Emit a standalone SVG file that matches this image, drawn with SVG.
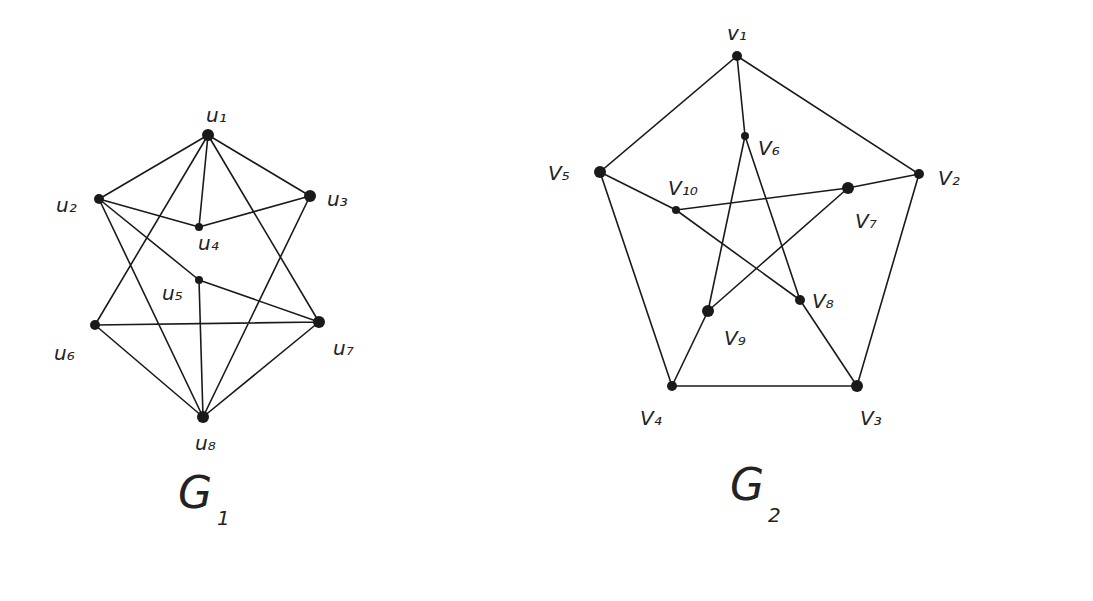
<svg xmlns="http://www.w3.org/2000/svg" width="1093" height="601" viewBox="0 0 1093 601">
<style>
.e{stroke:#1a1a1a;stroke-width:1.6;fill:none}
.n{fill:#1a1a1a}
text{font-family:"DejaVu Sans",sans-serif;font-style:italic;fill:#222;font-size:20px}
.b{font-size:44px}
</style>
<rect width="1093" height="601" fill="#fff"/>
<g id="connectors">
<path class="e" d="M208 135L99 199M208 135L310 196M208 135L199 227M208 135L95 325M208 135L319 322M99 199L199 227M199 227L310 196M99 199L199 280M99 199L203 417M199 280L319 322M199 280L203 417M95 325L319 322M95 325L203 417M310 196L203 417M319 322L203 417"/>
<path class="e" d="M737 56L919 174L857 386L672 386L600 172Z M737 56L745 136 M919 174L848 188 M857 386L800 300 M672 386L708 311 M600 172L676 210 M745 136L800 300 M745 136L708 311 M848 188L676 210 M848 188L708 311 M676 210L800 300"/>
</g>
<g id="u1"><circle class="n" cx="208" cy="135" r="6"/><text x="206" y="122">u₁</text></g>
<g id="u2"><circle class="n" cx="99" cy="199" r="5"/><text x="56" y="212">u₂</text></g>
<g id="u3"><circle class="n" cx="310" cy="196" r="6"/><text x="327" y="206">u₃</text></g>
<g id="u4"><circle class="n" cx="199" cy="227" r="4"/><text x="198" y="250">u₄</text></g>
<g id="u5"><circle class="n" cx="199" cy="280" r="4"/><text x="162" y="300">u₅</text></g>
<g id="u6"><circle class="n" cx="95" cy="325" r="5"/><text x="54" y="360">u₆</text></g>
<g id="u7"><circle class="n" cx="319" cy="322" r="6"/><text x="333" y="355">u₇</text></g>
<g id="u8"><circle class="n" cx="203" cy="417" r="6"/><text x="195" y="450">u₈</text></g>
<text class="b" x="178" y="508">G</text><text x="217" y="525" font-size="26">1</text>
<g id="v1"><circle class="n" cx="737" cy="56" r="5"/><text x="727" y="40">v₁</text></g>
<g id="v2"><circle class="n" cx="919" cy="174" r="5"/><text x="938" y="185">V₂</text></g>
<g id="v3"><circle class="n" cx="857" cy="386" r="6"/><text x="860" y="425">V₃</text></g>
<g id="v4"><circle class="n" cx="672" cy="386" r="5"/><text x="640" y="425">V₄</text></g>
<g id="v5"><circle class="n" cx="600" cy="172" r="6"/><text x="548" y="180">V₅</text></g>
<g id="v6"><circle class="n" cx="745" cy="136" r="4"/><text x="758" y="155">V₆</text></g>
<g id="v7"><circle class="n" cx="848" cy="188" r="6"/><text x="855" y="228">V₇</text></g>
<g id="v8"><circle class="n" cx="800" cy="300" r="5"/><text x="812" y="308">V₈</text></g>
<g id="v9"><circle class="n" cx="708" cy="311" r="6"/><text x="724" y="345">V₉</text></g>
<g id="v10"><circle class="n" cx="676" cy="210" r="4"/><text x="668" y="195">V₁₀</text></g>
<text class="b" x="730" y="500">G</text><text x="768" y="522" font-size="26">2</text>
</svg>
